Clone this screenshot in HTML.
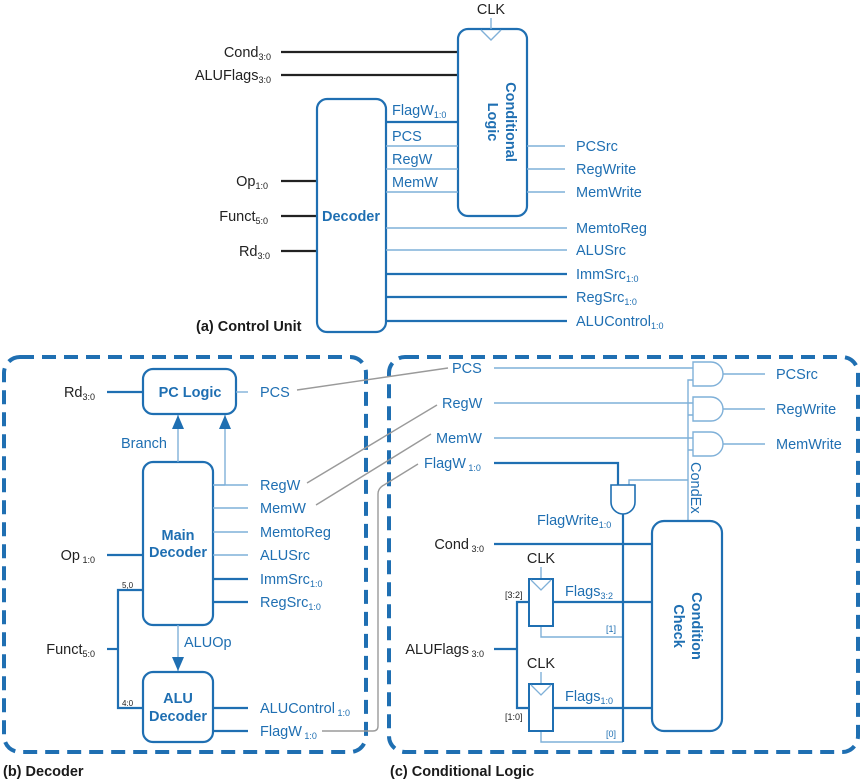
<!DOCTYPE html>
<html><head><meta charset="utf-8"><style>
html,body{margin:0;padding:0;background:#fff;}
svg{display:block;font-family:"Liberation Sans",Arial,sans-serif;}
.b{fill:#1f6fb2}
.k{fill:#222}
.bl{fill:#1a1a1a}
</style></head><body>
<svg width="860" height="780" viewBox="0 0 860 780" xmlns="http://www.w3.org/2000/svg">
<defs>
<marker id="ar" markerWidth="14" markerHeight="12" refX="14" refY="6" orient="auto" markerUnits="userSpaceOnUse"><path d="M0,0 L14,6 L0,12 z" fill="#1f6fb2"/></marker>
</defs>
<g font-size="14.5">
<!-- (a) Control Unit -->
<g stroke="#222" stroke-width="2.2">
<line x1="281" y1="52" x2="458" y2="52"/><line x1="281" y1="75" x2="458" y2="75"/>
<line x1="281" y1="181" x2="317" y2="181"/><line x1="281" y1="216" x2="317" y2="216"/><line x1="281" y1="251" x2="317" y2="251"/>
</g>
<g stroke="#1f6fb2" fill="none" stroke-width="2.2">
<rect x="458" y="29" width="69" height="187" rx="10"/>
<rect x="317" y="99" width="69" height="233" rx="10"/>
<line x1="386" y1="122" x2="458" y2="122"/>
<line x1="386" y1="274" x2="567" y2="274"/><line x1="386" y1="297" x2="567" y2="297"/><line x1="386" y1="321" x2="567" y2="321"/>
</g>
<g stroke="#7fb0d8" fill="none" stroke-width="1.4">
<line x1="491" y1="18" x2="491" y2="29"/><path d="M481,30 L491,40 L501,30"/>
<line x1="386" y1="146" x2="458" y2="146"/><line x1="386" y1="169" x2="458" y2="169"/><line x1="386" y1="192" x2="458" y2="192"/>
<line x1="527" y1="146" x2="565" y2="146"/><line x1="527" y1="169" x2="565" y2="169"/><line x1="527" y1="192" x2="565" y2="192"/>
<line x1="386" y1="228" x2="567" y2="228"/><line x1="386" y1="250" x2="567" y2="250"/>
</g>
<text x="491" y="14" text-anchor="middle" class="k">CLK</text>
<text x="271" y="57" text-anchor="end" class="k">Cond<tspan font-size="9" dy="3">3:0</tspan></text>
<text x="271" y="80" text-anchor="end" class="k">ALUFlags<tspan font-size="9" dy="3">3:0</tspan></text>
<text x="268" y="186" text-anchor="end" class="k">Op<tspan font-size="9" dy="3">1:0</tspan></text>
<text x="268" y="221" text-anchor="end" class="k">Funct<tspan font-size="9" dy="3">5:0</tspan></text>
<text x="270" y="256" text-anchor="end" class="k">Rd<tspan font-size="9" dy="3">3:0</tspan></text>
<text x="351" y="221" text-anchor="middle" class="b" font-weight="bold">Decoder</text>
<text transform="translate(497,122) rotate(90)" text-anchor="middle" class="b" font-weight="bold"><tspan x="0" dy="-9">Conditional</tspan><tspan x="0" dy="18">Logic</tspan></text>
<g class="b">
<text x="392" y="115">FlagW<tspan font-size="9" dy="3">1:0</tspan></text>
<text x="392" y="141">PCS</text><text x="392" y="164">RegW</text><text x="392" y="187">MemW</text>
<text x="576" y="151">PCSrc</text><text x="576" y="174">RegWrite</text><text x="576" y="197">MemWrite</text>
<text x="576" y="233">MemtoReg</text><text x="576" y="255">ALUSrc</text>
<text x="576" y="279">ImmSrc<tspan font-size="9" dy="3">1:0</tspan></text>
<text x="576" y="302">RegSrc<tspan font-size="9" dy="3">1:0</tspan></text>
<text x="576" y="326">ALUControl<tspan font-size="9" dy="3">1:0</tspan></text>
</g>
<text x="196" y="331" class="bl" font-weight="bold">(a) Control Unit</text>

<!-- dashed boxes -->
<g stroke="#1f6fb2" fill="none" stroke-width="4" stroke-dasharray="14,8">
<rect x="4" y="357" width="362" height="395" rx="16"/>
<rect x="389" y="357" width="469" height="395" rx="16"/>
</g>

<!-- (b) Decoder -->
<g stroke="#1f6fb2" fill="none" stroke-width="2.2">
<rect x="143" y="369" width="93" height="45" rx="10"/>
<rect x="143" y="462" width="70" height="163" rx="10"/>
<rect x="143" y="672" width="70" height="70" rx="10"/>
<line x1="107" y1="392" x2="143" y2="392"/>
<line x1="107" y1="555" x2="143" y2="555"/>
<line x1="107" y1="649" x2="118" y2="649"/>
<path d="M143,590 H118 V708 H143"/>
<line x1="213" y1="579" x2="248" y2="579"/><line x1="213" y1="602" x2="248" y2="602"/>
<line x1="213" y1="708" x2="248" y2="708"/><line x1="213" y1="731" x2="248" y2="731"/>
</g>
<g stroke="#7fb0d8" fill="none" stroke-width="1.4">
<line x1="236" y1="392" x2="248" y2="392"/>
<line x1="178" y1="462" x2="178" y2="415" marker-end="url(#ar)"/>
<line x1="225" y1="485" x2="225" y2="415" marker-end="url(#ar)"/>
<line x1="213" y1="485" x2="225" y2="485"/>
<line x1="178" y1="625" x2="178" y2="671" marker-end="url(#ar)"/>
<line x1="213" y1="485" x2="248" y2="485"/><line x1="213" y1="508" x2="248" y2="508"/>
<line x1="213" y1="532" x2="248" y2="532"/><line x1="213" y1="555" x2="248" y2="555"/>
</g>
<g stroke="#9a9a9a" fill="none" stroke-width="1.4">
<line x1="297" y1="390" x2="448" y2="368"/>
<line x1="307" y1="483" x2="437" y2="405"/>
<line x1="316" y1="505" x2="431" y2="434"/>
<path d="M322,731 H373 Q378,731 378,726 V494 Q378,488 384,485 L418,464"/>
</g>
<text x="95" y="397" text-anchor="end" class="k">Rd<tspan font-size="9" dy="3">3:0</tspan></text>
<text x="95" y="560" text-anchor="end" class="k">Op<tspan font-size="9" dy="3"> 1:0</tspan></text>
<text x="95" y="654" text-anchor="end" class="k">Funct<tspan font-size="9" dy="3">5:0</tspan></text>
<text x="122" y="588" font-size="8" class="k">5,0</text>
<text x="122" y="706" font-size="8" class="k">4:0</text>
<text x="190" y="397" text-anchor="middle" class="b" font-weight="bold">PC Logic</text>
<text x="178" y="540" text-anchor="middle" class="b" font-weight="bold"><tspan x="178">Main</tspan><tspan x="178" dy="17">Decoder</tspan></text>
<text x="178" y="703" text-anchor="middle" class="b" font-weight="bold"><tspan x="178">ALU</tspan><tspan x="178" dy="18">Decoder</tspan></text>
<g class="b">
<text x="260" y="397">PCS</text>
<text x="121" y="448">Branch</text>
<text x="184" y="647">ALUOp</text>
<text x="260" y="490">RegW</text><text x="260" y="513">MemW</text><text x="260" y="537">MemtoReg</text><text x="260" y="560">ALUSrc</text>
<text x="260" y="584">ImmSrc<tspan font-size="9" dy="3">1:0</tspan></text>
<text x="260" y="607">RegSrc<tspan font-size="9" dy="3">1:0</tspan></text>
<text x="260" y="713">ALUControl<tspan font-size="9" dy="3"> 1:0</tspan></text>
<text x="260" y="736">FlagW<tspan font-size="9" dy="3"> 1:0</tspan></text>
</g>
<text x="3" y="776" class="bl" font-weight="bold">(b) Decoder</text>

<!-- (c) Conditional Logic -->
<g stroke="#7fb0d8" fill="none" stroke-width="1.4">
<line x1="494" y1="368" x2="693" y2="368"/><line x1="494" y1="403" x2="693" y2="403"/><line x1="494" y1="438" x2="693" y2="438"/>
<path d="M688,521 V380 H693 M688,415 H693 M688,450 H693"/>
<path d="M688,480 H629 V485"/>
<path d="M693,362 H711 A12,12 0 0 1 711,386 H693 Z"/>
<path d="M693,397 H711 A12,12 0 0 1 711,421 H693 Z"/>
<path d="M693,432 H711 A12,12 0 0 1 711,456 H693 Z"/>
<line x1="723" y1="374" x2="765" y2="374"/><line x1="723" y1="409" x2="765" y2="409"/><line x1="723" y1="444" x2="765" y2="444"/>
<line x1="541" y1="567" x2="541" y2="579"/><line x1="541" y1="672" x2="541" y2="684"/>
<path d="M541,626 V637 H623"/><path d="M541,731 V742 H623"/>
</g>
<g stroke="#1f6fb2" fill="none" stroke-width="2.2">
<path d="M494,463 H618 V485"/>
<path d="M611,485 H635 V502 A12,12 0 0 1 611,502 Z" stroke-width="1.6"/>
<line x1="623" y1="514" x2="623" y2="742"/>
<line x1="494" y1="544" x2="652" y2="544"/>
<rect x="652" y="521" width="70" height="210" rx="12"/>
<rect x="529" y="579" width="24" height="47" stroke-width="2"/>
<rect x="529" y="684" width="24" height="47" stroke-width="2"/>
<line x1="553" y1="602" x2="652" y2="602"/><line x1="553" y1="708" x2="652" y2="708"/>
<line x1="494" y1="649" x2="517" y2="649"/>
<path d="M529,602 H517 V708 H529"/>
</g>
<g stroke="#7fb0d8" fill="none" stroke-width="1.3">
<path d="M531,580 L541,590 L551,580"/><path d="M531,685 L541,695 L551,685"/>
</g>
<g class="b">
<text x="452" y="373">PCS</text><text x="442" y="408">RegW</text><text x="436" y="443">MemW</text>
<text x="424" y="468">FlagW<tspan font-size="9" dy="3"> 1:0</tspan></text>
<text x="776" y="379">PCSrc</text><text x="776" y="414">RegWrite</text><text x="776" y="449">MemWrite</text>
<text x="537" y="525">FlagWrite<tspan font-size="9" dy="3">1:0</tspan></text>
<text x="565" y="596">Flags<tspan font-size="9" dy="3">3:2</tspan></text>
<text x="565" y="701">Flags<tspan font-size="9" dy="3">1:0</tspan></text>
<text transform="translate(691,462) rotate(90)">CondEx</text>
<text x="606" y="632" font-size="9">[1]</text><text x="606" y="737" font-size="9">[0]</text>
<text transform="translate(687,626) rotate(90)" text-anchor="middle" font-weight="bold"><tspan x="0" dy="-5">Condition</tspan><tspan x="0" dy="18">Check</tspan></text>
</g>
<text x="484" y="549" text-anchor="end" class="k">Cond<tspan font-size="9" dy="3"> 3:0</tspan></text>
<text x="484" y="654" text-anchor="end" class="k">ALUFlags<tspan font-size="9" dy="3"> 3:0</tspan></text>
<text x="541" y="563" text-anchor="middle" class="k">CLK</text>
<text x="541" y="668" text-anchor="middle" class="k">CLK</text>
<text x="505" y="598" font-size="9" class="k">[3:2]</text>
<text x="505" y="720" font-size="9" class="k">[1:0]</text>
<text x="390" y="776" class="bl" font-weight="bold">(c) Conditional Logic</text>
</g>
</svg>
</body></html>
